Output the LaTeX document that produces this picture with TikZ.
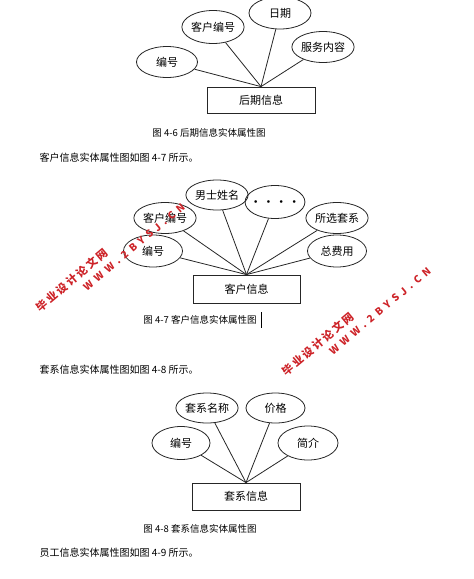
\documentclass[tikz,border=0pt]{standalone}
\usepackage{fontspec}
\usepackage{tikz}
\usetikzlibrary{calc, shapes}

\newfontfamily\cjk{Noto Sans CJK SC}
\newfontfamily\markfont[LetterSpace = 20]{Noto Sans CJK SC}
\newfontfamily\marklatin[LetterSpace = 45]{Noto Sans CJK SC}
\definecolor{markred}{RGB}{205, 35, 40}

\begin{document}
\begin{tikzpicture}[x = 1pt, y = -1pt,
            attr/.style = {draw = black!85, line width = 0.8pt, ellipse, inner sep = 0pt, font = \cjk\fontsize{11}{13}\selectfont},
            entity/.style = {draw = black!85, line width = 0.8pt, rectangle, inner sep = 0pt, font = \cjk\fontsize{11}{13}\selectfont},
            link/.style = {black!85, line width = 0.8pt},
            caption/.style = {font = \cjk\fontsize{9.5}{11}\selectfont},
            body/.style = {anchor = west, font = \cjk\fontsize{10}{12}\selectfont},
            wmark/.style = {rotate = 40, text = markred, font = \markfont\bfseries\fontsize{11}{13}\selectfont},
            wlatin/.style = {rotate = 40, text = markred, font = \marklatin\bfseries\fontsize{10}{12}\selectfont}]
            \useasboundingbox (0, 0) rectangle (474, 579);
            
            \node[entity, minimum width = 108, minimum height = 26] (service) at (261, 100) {后期信息};
            \node[attr, minimum width = 62, minimum height = 32] (svcdate) at (280, 13) {日期};
            \node[attr, minimum width = 60, minimum height = 33] (svccust) at (213, 27) {客户编号};
            \node[attr, minimum width = 60, minimum height = 31] (svcinfo) at (323, 47) {服务内容};
            \node[attr, minimum width = 61, minimum height = 31] (svcno) at (167, 62) {编号};
            \foreach \a in {svcno, svccust, svcdate, svcinfo} {
                \draw[link] (\a) -- (service.north);
            }
            \node[caption] (cap6) at (209, 133) {图 4-6 后期信息实体属性图};
            \node[body] (txt7) at (36, 158) {客户信息实体属性图如图 4-7 所示。};
            
            \node[entity, minimum width = 107, minimum height = 28] (customer) at (246.5, 289) {客户信息};
            \node[attr, minimum width = 60, minimum height = 30] (cusname) at (217, 195) {男士姓名};
            \node[attr, minimum width = 57, minimum height = 33] (cusmore) at (275, 202) {\fontsize{6}{6}\selectfont$\bullet$\hspace{9pt}$\bullet$\hspace{9pt}$\bullet$\hspace{9pt}$\bullet$};
            \node[attr, minimum width = 60, minimum height = 31] (cusno) at (165, 218) {客户编号};
            \node[attr, minimum width = 59, minimum height = 31] (cuspack) at (337, 218) {所选套系};
            \node[attr, minimum width = 59, minimum height = 32] (cusid) at (153, 251) {编号};
            \node[attr, minimum width = 59, minimum height = 32] (cusfee) at (337, 251) {总费用};
            \foreach \a in {cusid, cusno, cusname, cusmore, cuspack, cusfee} {
                \draw[link] (\a) -- (customer.north);
            }
            \node[caption] (cap7) at (200, 320) {图 4-7 客户信息实体属性图};
            \draw[line width = 1pt] ([xshift = 1.5]cap7.north east) -- ([xshift = 1.5]cap7.south east);
            \node[body] (txt8) at (36, 370) {套系信息实体属性图如图 4-8 所示。};
            
            \node[entity, minimum width = 108, minimum height = 27] (package) at (246, 496.5) {套系信息};
            \node[attr, minimum width = 51, minimum height = 30] (pkgname) at (207, 408) {套系名称};
            \node[attr, minimum width = 59, minimum height = 30] (pkgprice) at (275.5, 408) {价格};
            \node[attr, minimum width = 58, minimum height = 33] (pkgno) at (181, 443) {编号};
            \node[attr, minimum width = 60, minimum height = 34] (pkgintro) at (308, 443) {简介};
            \foreach \a in {pkgno, pkgname, pkgprice, pkgintro} {
                \draw[link] (\a) -- (package.north);
            }
            \node[caption] (cap8) at (200, 529) {图 4-8 套系信息实体属性图};
            \node[body] (txt9) at (36, 553) {员工信息实体属性图如图 4-9 所示。};
            
            \node[wmark] (wm1a) at (72, 280) {毕业设计论文网};
            \node[wlatin] (wm1b) at (134, 247) {WWW.2BYSJ.CN};
            \node[wmark] (wm2a) at (318, 344) {毕业设计论文网};
            \node[wlatin] (wm2b) at (380, 311) {WWW.2BYSJ.CN};
            
        \end{tikzpicture}
\end{document}
